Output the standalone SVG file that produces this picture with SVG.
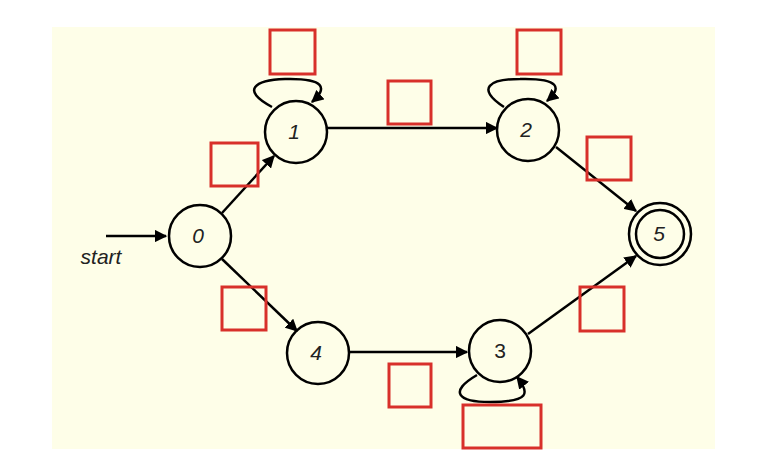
<svg xmlns="http://www.w3.org/2000/svg" width="766" height="464" viewBox="0 0 766 464">
<style>
.n{fill:none;stroke:#000;stroke-width:2.5}
.t{font-family:"Liberation Sans",Arial,sans-serif;font-size:21px;font-style:italic;text-anchor:middle;fill:#222}
.e{fill:none;stroke:#000;stroke-width:2.5;marker-end:url(#a)}
.b{fill:none;stroke:#d8302a;stroke-width:3}
</style>
<defs><marker id="a" viewBox="0 0 10 10" refX="9" refY="5" markerWidth="5" markerHeight="5" orient="auto"><path d="M0,0L10,5L0,10z" fill="#000"/></marker></defs>
<rect x="52" y="27" width="663" height="422" fill="#fefee8"/>
<g id="edges">
<path class="e" d="M106,236H166"/>
<path class="e" d="M222,213L274,156"/>
<path class="e" d="M327,128H497"/>
<path class="e" d="M556,147L636,211"/>
<path class="e" d="M222,259L297,331"/>
<path class="e" d="M349,352H467"/>
<path class="e" d="M528,334L636,256"/>
<path class="e" d="M272,107C240,90 255,80 285,79C325,78 328,88 312,102"/>
<path class="e" d="M504,107C475,88 490,79 520,79C560,78 562,88 547,101"/>
<path class="e" d="M477,375C448,392 458,402 490,402C530,402 530,393 517,377"/>
</g>
<g id="n0"><circle class="n" cx="200" cy="236" r="31"/><text class="t" x="198" y="243">0</text></g>
<g id="n1"><circle class="n" cx="296" cy="132" r="31"/><text class="t" x="294" y="139">1</text></g>
<g id="n2"><circle class="n" cx="528" cy="130" r="31"/><text class="t" x="526" y="137">2</text></g>
<g id="n5"><circle class="n" cx="660" cy="234" r="31"/><circle class="n" cx="660" cy="234" r="24"/><text class="t" x="659" y="241">5</text></g>
<g id="n4"><circle class="n" cx="318" cy="353" r="31"/><text class="t" x="316" y="360">4</text></g>
<g id="n3"><circle class="n" cx="500" cy="351" r="31"/><text class="t" x="500" y="358" style="font-style:normal">3</text></g>
<text class="t" x="101" y="264">start</text>
<g id="labels">
<rect class="b" x="270" y="30" width="45" height="44"/>
<rect class="b" x="211" y="143" width="47" height="43"/>
<rect class="b" x="388" y="81" width="43" height="43"/>
<rect class="b" x="517" y="30" width="44" height="44"/>
<rect class="b" x="587" y="137" width="44" height="43"/>
<rect class="b" x="222" y="287" width="44" height="43"/>
<rect class="b" x="389" y="364" width="42" height="43"/>
<rect class="b" x="580" y="287" width="44" height="44"/>
<rect class="b" x="463" y="405" width="78" height="43"/>
</g>
</svg>
